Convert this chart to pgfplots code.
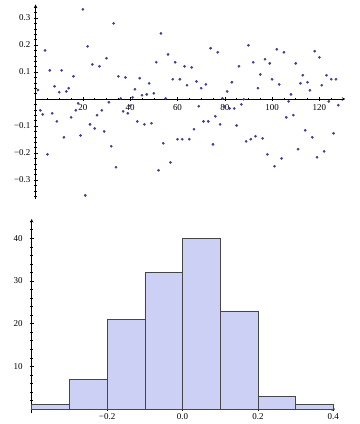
\documentclass[border=0pt]{standalone}
\usepackage{pgfplots}
\pgfplotsset{compat=1.18}
\usepackage{fontspec}
\setmainfont{Liberation Serif}
\definecolor{pt}{RGB}{62,62,150}
\definecolor{hfill}{RGB}{204,208,245}
\definecolor{hedge}{RGB}{70,70,70}
\pgfplotsset{
  mstyle/.style={
    scale only axis,
    /pgf/number format/assume math mode=true,
    every tick/.style={black, line width=0.5pt},
    major tick length=4bp, minor tick length=2.5bp,
    tick align=inside,
    axis line style={-, black, line width=0.6pt},
    tick label style={font=\fontsize{9}{10}\selectfont},
    clip=false,
  }
}
\begin{document}
\begin{tikzpicture}
\path[use as bounding box] (0bp,0bp) rectangle (360bp,424bp);
% ---------- scatter ----------
\begin{axis}[mstyle,
  at={(35.6bp,225.1bp)}, anchor=south west,
  width=309.8bp, height=194.4bp,
  xmin=0, xmax=131, ymin=-0.37, ymax=0.35,
  axis lines=middle,
  xtick={20,40,60,80,100,120},
  minor xtick={5,10,15,25,30,35,45,50,55,65,70,75,85,90,95,105,110,115,125,130},
  ytick={-0.3,-0.2,-0.1,0.1,0.2,0.3},
  yticklabels={−0.3,−0.2,−0.1,0.1,0.2,0.3},
  minor ytick={-0.36,-0.34,-0.32,-0.28,-0.26,-0.24,-0.22,-0.18,-0.16,-0.14,-0.12,-0.08,-0.06,-0.04,-0.02,0.02,0.04,0.06,0.08,0.12,0.14,0.16,0.18,0.22,0.24,0.26,0.28,0.32,0.34},
  xticklabel style={anchor=north, inner sep=1bp, yshift=-2bp},
  yticklabel style={anchor=east, inner sep=1bp, xshift=-2bp},
]
\addplot[only marks, mark=*, mark size=1.15pt, color=pt, mark options={draw=pt, fill=pt}] table {
1 0.033
2 -0.042
3 -0.057
4 0.180
5 -0.205
6 0.106
7 -0.053
8 0.047
9 -0.083
10 0.025
11 0.106
12 -0.142
13 0.028
14 0.040
15 -0.068
16 0.084
17 -0.042
18 -0.016
19 -0.135
20 0.332
21 -0.357
22 0.195
23 -0.094
24 0.128
25 -0.109
26 -0.060
27 0.121
28 -0.042
29 -0.120
30 0.151
31 -0.012
32 -0.175
33 0.280
34 -0.253
35 0.084
36 0.002
37 -0.046
38 0.080
39 -0.053
40 -0.025
41 0.006
42 0.036
43 -0.083
44 0.077
45 0.014
46 -0.094
47 0.017
48 0.058
49 -0.090
50 0.021
51 0.136
52 -0.264
53 0.243
54 -0.164
55 0.002
56 0.165
57 -0.235
58 0.073
59 0.136
60 -0.149
61 0.073
62 -0.149
63 0.121
64 0.051
65 -0.149
66 0.117
67 -0.112
68 0.065
69 -0.027
70 0.040
71 -0.083
72 0.054
73 -0.083
74 0.188
75 -0.168
76 -0.064
77 0.173
78 -0.094
79 0.002
80 -0.028
81 0.028
82 -0.035
83 0.062
84 -0.035
85 -0.098
86 0.121
87 -0.020
88 -0.001
89 -0.157
90 0.199
91 -0.149
92 0.136
93 -0.138
94 0.040
95 0.091
96 -0.146
97 0.147
98 -0.205
99 0.132
100 0.073
101 -0.249
102 0.184
103 0.054
104 -0.220
105 0.173
106 -0.068
107 -0.009
108 0.017
109 -0.060
110 0.132
111 -0.186
112 0.058
113 0.088
114 -0.116
115 0.062
116 0.032
117 -0.142
118 0.177
119 -0.216
120 0.154
121 0.051
122 -0.194
123 0.088
124 -0.009
125 0.073
126 -0.127
127 0.073
128 -0.023
};
\end{axis}
% ---------- histogram ----------
\begin{axis}[mstyle,
  at={(31.7bp,10.7bp)}, anchor=south west,
  width=303.5bp, height=194.3bp,
  xmin=-0.4, xmax=0.405, ymin=-1, ymax=44.5,
  axis x line=middle, axis y line=left,
  xtick={-0.2,0,0.2,0.4},
  xticklabels={−0.2,0.0,0.2,0.4},
  minor xtick={-0.35,-0.3,-0.25,-0.15,-0.1,-0.05,0.05,0.1,0.15,0.25,0.3,0.35},
  ytick={10,20,30,40},
  minor ytick={2,4,6,8,12,14,16,18,22,24,26,28,32,34,36,38,42,44},
  xticklabel style={anchor=north, inner sep=1bp, yshift=-1bp},
  yticklabel style={anchor=east, inner sep=1bp, xshift=-6bp},
]
\addplot[ybar interval, fill=hfill, draw=hedge, line width=0.6pt] coordinates {
(-0.4,1) (-0.3,7) (-0.2,21) (-0.1,32) (0.0,40) (0.1,23) (0.2,3) (0.3,1) (0.4,1)
};
\end{axis}
\end{tikzpicture}
\end{document}
